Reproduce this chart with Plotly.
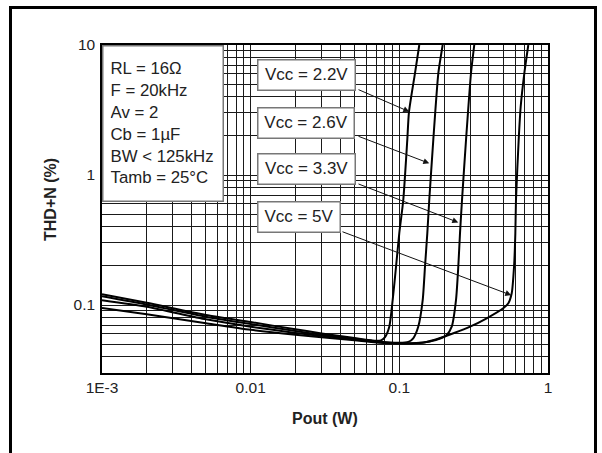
import numpy as np
import plotly.graph_objects as go

# ---- data ----
SERIES_NAMES = ["Vcc = 2.2V", "Vcc = 2.6V", "Vcc = 3.3V", "Vcc = 5V"]

pout_22 = [0.001, 0.002, 0.005, 0.01, 0.02, 0.03, 0.05, 0.07, 0.0753, 0.0801,
           0.0856, 0.0902, 0.0950, 0.0999, 0.1063, 0.1131, 0.1161, 0.1274, 0.1362]
thd_22 = [0.121, 0.104, 0.0838, 0.074, 0.065, 0.0605, 0.0557, 0.053, 0.0535, 0.0567,
          0.0681, 0.109, 0.197, 0.356, 0.642, 1.86, 3.05, 6.06, 10]

pout_26 = [0.001, 0.002, 0.005, 0.01, 0.02, 0.03, 0.05, 0.07, 0.1, 0.115, 0.124,
           0.134, 0.1436, 0.1488, 0.1542, 0.1590, 0.1692, 0.1829, 0.1957]
thd_26 = [0.117, 0.101, 0.0812, 0.0714, 0.063, 0.059, 0.055, 0.0525, 0.0512, 0.052, 0.0555,
          0.068, 0.109, 0.197, 0.356, 0.642, 1.86, 6.06, 10]

pout_33 = [0.001, 0.002, 0.005, 0.01, 0.02, 0.03, 0.05, 0.07, 0.1, 0.13, 0.16, 0.19,
           0.2083, 0.2251, 0.2405, 0.2492, 0.2559, 0.2640, 0.2809, 0.3034, 0.3192]
thd_33 = [0.109, 0.097, 0.0776, 0.0681, 0.061, 0.058, 0.0545, 0.052, 0.0508, 0.051, 0.0525,
          0.0555, 0.0588, 0.0681, 0.109, 0.197, 0.356, 0.642, 1.86, 6.06, 10]

pout_5 = [0.001, 0.002, 0.005, 0.01, 0.02, 0.03, 0.05, 0.07, 0.1, 0.117, 0.149, 0.178,
          0.231, 0.299, 0.387, 0.500, 0.541, 0.570, 0.591, 0.603, 0.609, 0.635, 0.655,
          0.693, 0.737]
thd_5 = [0.095, 0.085, 0.0725, 0.0645, 0.059, 0.0565, 0.0535, 0.0515, 0.0505, 0.0505,
         0.0517, 0.0545, 0.0606, 0.0681, 0.079, 0.0943, 0.1031, 0.123, 0.197, 0.356,
         0.642, 1.86, 3.35, 6.06, 10]

conditions = ["RL = 16Ω", "F = 20kHz", "Av = 2", "Cb = 1µF", "BW < 125kHz", "Tamb = 25°C"]

x_ticks = [0.001, 0.01, 0.1, 1]
x_ticktext = ["1E-3", "0.01", "0.1", "1"]
y_ticks = [0.1, 1, 10]
y_ticktext = ["0.1", "1", "10"]

FONT = "Arial, Liberation Sans, Helvetica, sans-serif"

# grid lines at every 1..9 step of each decade
x_grid = [m * 10.0 ** e for e in (-3, -2, -1) for m in range(1, 10)] + [1.0]
y_grid = [m * 10.0 ** e for e in (-2, -1, 0) for m in range(1, 10) if m * 10.0 ** e >= 0.04] + [10.0]


def _labels(grid, ticks, text):
    out = []
    for g in grid:
        hit = [t for t, v in zip(text, ticks) if abs(np.log10(g) - np.log10(v)) < 1e-6]
        out.append(hit[0] if hit else "")
    return out


fig = go.Figure()
for xs, ys, name in zip([pout_22, pout_26, pout_33, pout_5],
                        [thd_22, thd_26, thd_33, thd_5], SERIES_NAMES):
    fig.add_trace(go.Scatter(x=xs, y=ys, mode="lines", name=name,
                             line=dict(color="black", width=2, shape="spline", smoothing=0.6),
                             showlegend=False))

axis_common = dict(type="log", showgrid=True, gridcolor="#1a1a1a", gridwidth=1,
                   showline=True, linecolor="black", linewidth=1.5, mirror=True,
                   ticks="", ticklen=0, zeroline=False,
                   tickfont=dict(family=FONT, size=15.5, color="#222"))
fig.update_xaxes(range=[-3, 0], tickmode="array", tickvals=x_grid,
                 ticktext=_labels(x_grid, x_ticks, x_ticktext), ticklabelstandoff=0,
                 **axis_common)
fig.update_yaxes(range=[np.log10(0.03), 1], tickmode="array", tickvals=y_grid,
                 ticktext=_labels(y_grid, y_ticks, y_ticktext), ticklabelstandoff=2,
                 **axis_common)


def px_x(px):
    return (px - 102) / 446.0


def px_y(py):
    return (373 - py) / 328.0


annotations = []
# conditions box
annotations.append(dict(
    xref="paper", yref="paper", x=0, y=1, xanchor="left", yanchor="top",
    text="<br>".join(conditions), align="left", showarrow=False,
    font=dict(family=FONT, size=16.8, color="#222"),
    bgcolor="white", bordercolor="#777", borderwidth=1.5, borderpad=7,
    width=105, height=139.5))

# series label boxes and arrows: (box centre y px, box width px, arrow tip (x, y), arrow offset px)
label_boxes = [
    (75.2, 99.4, (0.1167, 3.07), (-52.3, -22.7)),
    (122.5, 98.0, (0.1590, 1.23), (-72.3, -27.6)),
    (169.3, 99.4, (0.2492, 0.432), (-101.3, -39)),
    (216.7, 84.0, (0.5662, 0.119), (-170.3, -64)),
]
for name, (cy, w, tip, off) in zip(SERIES_NAMES, label_boxes):
    annotations.append(dict(
        xref="paper", yref="paper", x=px_x(257.3), y=px_y(cy), xanchor="left", yanchor="middle",
        text=name, showarrow=False, font=dict(family=FONT, size=17, color="#222"),
        bgcolor="white", bordercolor="#777", borderwidth=1.5, borderpad=0,
        width=w - 3, height=28.7))
    annotations.append(dict(
        x=np.log10(tip[0]), y=np.log10(tip[1]), xref="x", yref="y", text="",
        showarrow=True, arrowhead=2, arrowsize=1.2, arrowwidth=1, arrowcolor="#111",
        ax=off[0], ay=off[1], standoff=0))

# axis titles
annotations.append(dict(xref="paper", yref="paper", x=0.5, y=px_y(418), text="<b>Pout (W)</b>",
                        showarrow=False, xanchor="center", yanchor="middle",
                        font=dict(family=FONT, size=16, color="#222")))
annotations.append(dict(xref="paper", yref="paper", x=px_x(50), y=px_y(200), text="<b>THD+N (%)</b>",
                        showarrow=False, xanchor="center", yanchor="middle", textangle=-90,
                        font=dict(family=FONT, size=16, color="#222")))

fig.update_layout(
    width=602, height=453,
    margin=dict(l=102, r=54, t=45, b=80),
    paper_bgcolor="white", plot_bgcolor="white",
    annotations=annotations,
    shapes=[dict(type="rect", xref="paper", yref="paper",
                 x0=px_x(10.5), x1=px_x(595.5), y0=px_y(470), y1=px_y(7.5),
                 line=dict(color="black", width=3), fillcolor="rgba(0,0,0,0)")],
)

# the page body has a default 8px margin; drop it so the figure sits at the page origin
fig.write_html("out.html", config={"displayModeBar": False},
               post_script="document.body.style.margin='0';")
